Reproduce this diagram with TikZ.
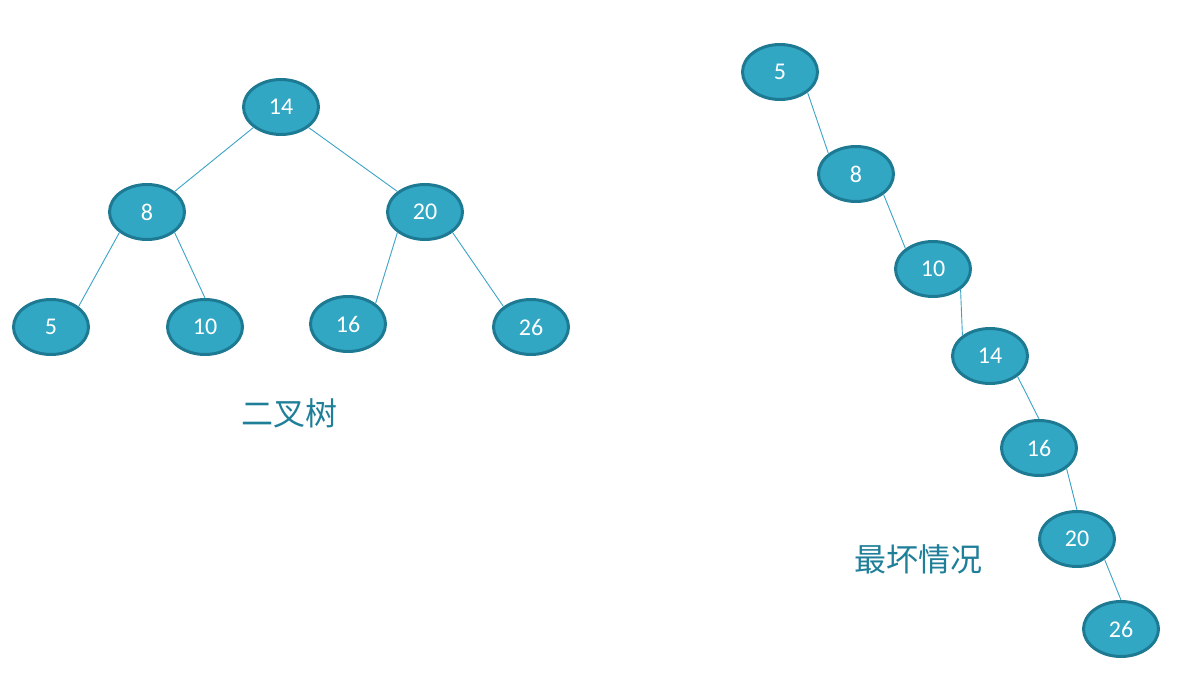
\documentclass[tikz,border=0pt]{standalone}
\usepackage{fontspec}
\setmainfont{Carlito}
\newfontfamily\cjk{Noto Sans CJK SC}
\usepackage{tikz}
\usetikzlibrary{shapes.geometric}
\definecolor{keyfill}{HTML}{31A7C4}
\definecolor{keyline}{HTML}{1E7A93}
\definecolor{edgeline}{HTML}{3BA3C6}
\definecolor{titletext}{HTML}{1F7F99}

\begin{document}
\begin{tikzpicture}[x=1bp, y=-1bp,
    key/.style={ellipse, fill=keyfill, draw=keyline, line width=3bp, minimum width=75bp, minimum height=55bp, inner sep=0pt, text=white, font=\fontsize{24bp}{28bp}\selectfont},
    link/.style={draw=edgeline, line width=0.9bp},
    title/.style={text=titletext, font=\cjk\fontsize{32bp}{38bp}\selectfont}]
          \useasboundingbox (0, 0) rectangle (1181, 673);
          % binary tree
          \node[key] (A1) at (281, 107) {14};
          \node[key] (A2) at (147, 212) {8};
          \node[key] (A3) at (425, 212) {20};
          \node[key] (A4) at (51, 327) {5};
          \node[key] (A5) at (205, 327) {10};
          \node[key] (A6) at (348, 324) {16};
          \node[key] (A7) at (531, 327) {26};

          \draw[link] (A1.south west) -- (A2.north east);
          \draw[link] (A1.south east) -- (A3.north west);
          \draw[link] (A2.south west) -- (A4.north east);
          \draw[link] (A2.south east) -- (A5.north);
          \draw[link] (A3.south west) -- (A6.north east);
          \draw[link] (A3.south east) -- (A7.north west);

          \node[title] (T1) at (289, 413) {二叉树};

          % worst case
          \node[key] (B1) at (780, 72) {5};
          \node[key] (B2) at (856, 174) {8};
          \node[key] (B3) at (933, 269) {10};
          \node[key] (B4) at (990, 356) {14};
          \node[key] (B5) at (1039, 448) {16};
          \node[key] (B6) at (1077, 539) {20};
          \node[key] (B7) at (1121, 629) {26};

          \draw[link] (B1.south east) -- (B2.north west);
          \draw[link] (B2.south east) -- (B3.north west);
          \draw[link] (B3.south east) -- (B4.north west);
          \draw[link] (B4.south east) -- (B5.north);
          \draw[link] (B5.south east) -- (B6.north);
          \draw[link] (B6.south east) -- (B7.north);

          \node[title] (T2) at (918, 559) {最坏情况};
        \end{tikzpicture}
\end{document}
